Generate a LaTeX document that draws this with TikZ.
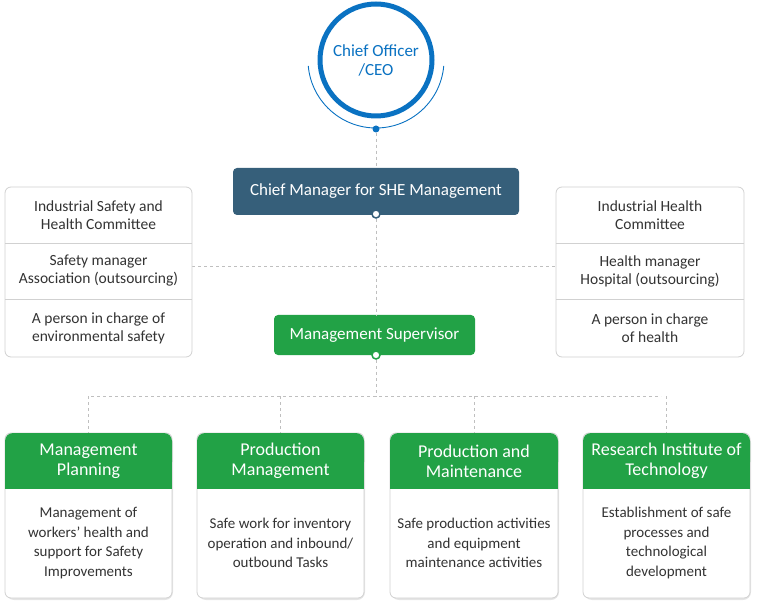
\documentclass[tikz,border=0pt]{standalone}
\usepackage{fontspec}
\setmainfont{Carlito}
\begin{document}
\begin{tikzpicture}[x=1pt,y=-1pt,
  dsh/.style={draw=black!25,dashed,line width=0.8pt},
  panel/.style={draw=black!18,line width=0.8pt,rounded corners=6pt,fill=white},
  txt/.style={align=center,text=black!80,font=\fontsize{15.5}{18}\selectfont},
  head/.style={align=center,text=white,font=\fontsize{18}{20}\selectfont},
  ring/.style={circle,draw,fill=white,line width=1.5pt,inner sep=0pt,minimum size=8pt}]
\definecolor{blu}{HTML}{0A72C2}
\definecolor{slate}{HTML}{365F7A}
\definecolor{grn}{HTML}{22A246}
\useasboundingbox (0,0) rectangle (757,609);
% CEO
\node[circle,draw=blu,line width=5pt,minimum size=112pt,fill=white,align=center,text=blu,font=\fontsize{17}{19}\selectfont] (ceo) at (376,60) {Chief Officer\\/CEO};
\draw[blu,line width=0.9pt] (376,60) ++(5:68) arc[start angle=5,end angle=175,radius=68];
\node[circle,fill=blu,inner sep=0pt,minimum size=7pt] (cd) at (376,129) {};
% chief manager
\node[fill=slate,rounded corners=4pt,minimum width=286pt,minimum height=47pt,head,font=\fontsize{17}{20}\selectfont] (cm) at (376,191.5) {Chief Manager for SHE Management};
\node[ring,draw=slate] (cmr) at (376,214) {};
\node[fill=grn,rounded corners=4pt,minimum width=201pt,minimum height=40pt,head,font=\fontsize{17}{20}\selectfont] (ms) at (374.5,335) {Management Supervisor};
\node[ring,draw=grn] (msr) at (376,355) {};
\draw[dsh] (cd) -- (cm.north);
\coordinate (hl) at (192,266); \coordinate (hr) at (556,266);
\draw[dsh] (hl) -- (hr);
\draw[dsh] (cmr) -- (376,315);
% side panels
\draw[panel] (5,187) rectangle (192,357);
\draw[black!18,line width=0.8pt] (5,243) -- (192,243) (5,299) -- (192,299);
\node[txt] (l1) at (98.5,215) {Industrial Safety and\\Health Committee};
\node[txt] (l2) at (98.5,271) {Safety manager\\Association (outsourcing)};
\node[txt] (l3) at (98.5,328) {A person in charge of\\environmental safety};
\draw[panel] (556,187) rectangle (744,357);
\draw[black!18,line width=0.8pt] (556,243) -- (744,243) (556,299) -- (744,299);
\node[txt] (r1) at (650,215) {Industrial Health\\Committee};
\node[txt] (r2) at (650,271) {Health manager\\Hospital (outsourcing)};
\node[txt] (r3) at (650,328) {A person in charge\\of health};
% bottom tree
\coordinate (b0) at (376,396);
\draw[dsh] (msr) -- (b0);
\draw[dsh] (91,396) -- (661,396);
\foreach \x/\y/\h/\b/\n in {5/172/{Management\\Planning}/{Management of\\workers' health and\\support for Safety\\Improvements}/a,
  197/364/{Production\\Management}/{Safe work for inventory\\operation and inbound/\\outbound Tasks}/b,
  390/558/{Production and\\Maintenance}/{Safe production activities\\and equipment\\maintenance activities}/c,
  583/750/{Research Institute of\\Technology}/{Establishment of safe\\processes and\\technological\\development}/d}{
  \fill[black!10,rounded corners=8pt] (\x+1,435) rectangle (\y+1,600);
  \draw[panel] (\x,433) rectangle (\y,598);
  \fill[grn,rounded corners=8pt] (\x,433) rectangle (\y,470);
  \fill[grn] (\x,455) rectangle (\y,489);
  \node[head,font=\fontsize{18}{20}\selectfont] (h\n) at ({(\x+\y)/2},461) {\h};
  \node[txt,font=\fontsize{15}{19.5}\selectfont] (d\n) at ({(\x+\y)/2},543) {\b};
  \coordinate (t\n) at ({(\x+\y)/2},396);
  \draw[dsh] (t\n) -- ({(\x+\y)/2},433);
}
\end{tikzpicture}
\end{document}
